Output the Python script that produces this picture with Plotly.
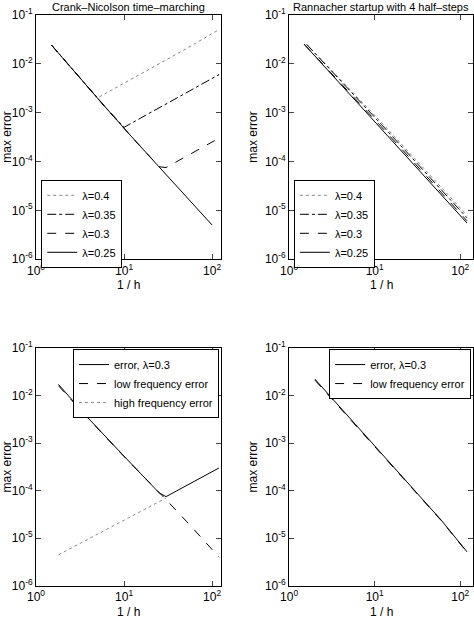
import plotly.graph_objects as go

# Top-left: Crank-Nicolson
cn_x_025 = [1.5, 3, 6, 12, 25, 50, 100]
cn_y_025 = [0.024, 5.6e-3, 1.35e-3, 3.3e-4, 7.8e-5, 1.95e-5, 5e-6]
cn_x_03 = [1.5, 3, 6, 12, 25, 30, 60, 120]
cn_y_03 = [0.024, 5.6e-3, 1.35e-3, 3.3e-4, 7.8e-5, 7.5e-5, 1.5e-4, 3e-4]
cn_x_035 = [1.5, 3, 6, 10, 30, 120]
cn_y_035 = [0.024, 5.6e-3, 1.35e-3, 5e-4, 1.5e-3, 6e-3]
cn_x_04 = [1.5, 3, 5, 15, 50, 120]
cn_y_04 = [0.024, 5.6e-3, 2e-3, 6e-3, 2e-2, 5e-2]

# Top-right: Rannacher
rn_x = [1.5, 12, 120]
rn_x_upper = [1.6, 12, 120]
rn_y_025 = [0.025, 4.6e-4, 5.5e-6]
rn_y_03 = [0.025, 5.1e-4, 6.1e-6]
rn_y_035 = [0.025, 5.7e-4, 7e-6]
rn_y_04 = [0.025, 6.3e-4, 7.9e-6]

# Bottom-left: error decomposition
bl_err_x = [1.8, 4, 10, 25, 30, 60, 120]
bl_err_y = [0.017, 3.2e-3, 5.3e-4, 9e-5, 7.5e-5, 1.5e-4, 3e-4]
bl_low_x = [1.8, 4, 10, 30, 60, 120]
bl_low_y = [0.016, 3.15e-3, 5.2e-4, 6.5e-5, 1.65e-5, 4e-6]
bl_high_x = [1.8, 5, 10, 30]
bl_high_y = [4.5e-6, 1.2e-5, 2.4e-5, 7e-5]

# Bottom-right
br_x = [2, 4, 10, 30, 60, 120]
br_err_y = [0.022, 5.5e-3, 8.6e-4, 9.6e-5, 2.4e-5, 5.2e-6]
br_low_y = [0.021, 5.3e-3, 8.4e-4, 9.4e-5, 2.35e-5, 5.1e-6]

fig = go.Figure()
G = "#888888"
def add(x, y, name, dash, ax, leg, color="black"):
    fig.add_trace(go.Scatter(x=x, y=y, name=name, mode="lines",
        line=dict(color=color, width=1, dash=dash),
        xaxis="x" + ax, yaxis="y" + ax, legend=leg))

add(cn_x_04, cn_y_04, "λ=0.4", "dot", "", "legend", G)
add(cn_x_035, cn_y_035, "λ=0.35", "dashdot", "", "legend")
add(cn_x_03, cn_y_03, "λ=0.3", "dash", "", "legend")
add(cn_x_025, cn_y_025, "λ=0.25", "solid", "", "legend")
add(rn_x_upper, rn_y_04, "λ=0.4", "dot", "2", "legend2", G)
add(rn_x_upper, rn_y_035, "λ=0.35", "dashdot", "2", "legend2")
add(rn_x, rn_y_03, "λ=0.3", "dash", "2", "legend2")
add(rn_x, rn_y_025, "λ=0.25", "solid", "2", "legend2")
add(bl_err_x, bl_err_y, "error, λ=0.3", "solid", "3", "legend3")
add(bl_low_x, bl_low_y, "low frequency error", "dash", "3", "legend3")
add(bl_high_x, bl_high_y, "high frequency error", "dot", "3", "legend3", G)
add(br_x, br_err_y, "error, λ=0.3", "solid", "4", "legend4")
add(br_x, br_low_y, "low frequency error", "dash", "4", "legend4")

yt = [10**-k for k in range(1, 7)]
ytt = ["10<sup>-%d</sup>" % k for k in range(1, 7)]
xt = [1, 10, 100]
xtt = ["10<sup>0</sup>", "10<sup>1</sup>", "10<sup>2</sup>"]

def xax(dom, anchor, rng):
    return dict(type="log", domain=dom, anchor=anchor, range=rng, tickvals=xt, ticktext=xtt,
                ticks="inside", ticklen=5, mirror="ticks", showline=True, linecolor="black",
                linewidth=1, showgrid=False, zeroline=False, automargin=False,
                tickfont=dict(size=12))
def yax(dom, anchor):
    return dict(type="log", domain=dom, anchor=anchor, range=[-6, -1], tickvals=yt, ticktext=ytt,
                ticks="inside", ticklen=5, mirror="ticks", showline=True, linecolor="black",
                linewidth=1, showgrid=False, zeroline=False, automargin=False,
                tickfont=dict(size=12), title=dict(text="max error", standoff=4, font=dict(size=12)))

L = [0.076, 0.466]; R = [0.61, 0.998]
T = [0.582, 0.976]; B = [0.055, 0.439]
def leg(x, y, xa="left"):
    return dict(x=x, y=y, xanchor=xa, yanchor="top", xref="paper", yref="paper",
                bordercolor="black", borderwidth=1, bgcolor="white",
                font=dict(size=11), tracegroupgap=0, itemwidth=30)

def note(text, x, y, size=12):
    return dict(text=text, x=x, y=y, xref="paper", yref="paper", xanchor="center",
                yanchor="middle", showarrow=False, font=dict(size=size))

fig.update_layout(
    width=474, height=620, margin=dict(l=0, r=0, t=0, b=0, autoexpand=False),
    paper_bgcolor="white", plot_bgcolor="white",
    font=dict(family="Liberation Sans, Arial", size=12, color="black"),
    xaxis=xax(L, "y", [0, 2.1]), yaxis=yax(T, "x"),
    xaxis2=xax(R, "y2", [0, 2.15]), yaxis2=yax(T, "x2"),
    xaxis3=xax(L, "y3", [0, 2.1]), yaxis3=yax(B, "x3"),
    xaxis4=xax(R, "y4", [0, 2.15]), yaxis4=yax(B, "x4"),
    legend=leg(0.087, 0.71), legend2=leg(0.62, 0.71),
    legend3=leg(0.462, 0.437, "right"), legend4=leg(0.994, 0.437, "right"),
    showlegend=True,
    annotations=[
        note("Crank–Nicolson time–marching", 0.271, 0.988, 11),
        note("Rannacher startup with 4 half–steps", 0.804, 0.988, 11),
        note("1 / h", 0.271, 1 - 285 / 620),
        note("1 / h", 0.804, 1 - 285 / 620),
        note("1 / h", 0.271, 1 - 612 / 620),
        note("1 / h", 0.804, 1 - 612 / 620),
    ],
)
fig.write_html("out.html", config={"displayModeBar": False})
with open("out.html", encoding="utf-8") as f:
    html = f.read()
html = html.replace("<head>", "<head><style>html,body{margin:0;padding:0;overflow:hidden}</style>", 1)
with open("out.html", "w", encoding="utf-8") as f:
    f.write(html)
